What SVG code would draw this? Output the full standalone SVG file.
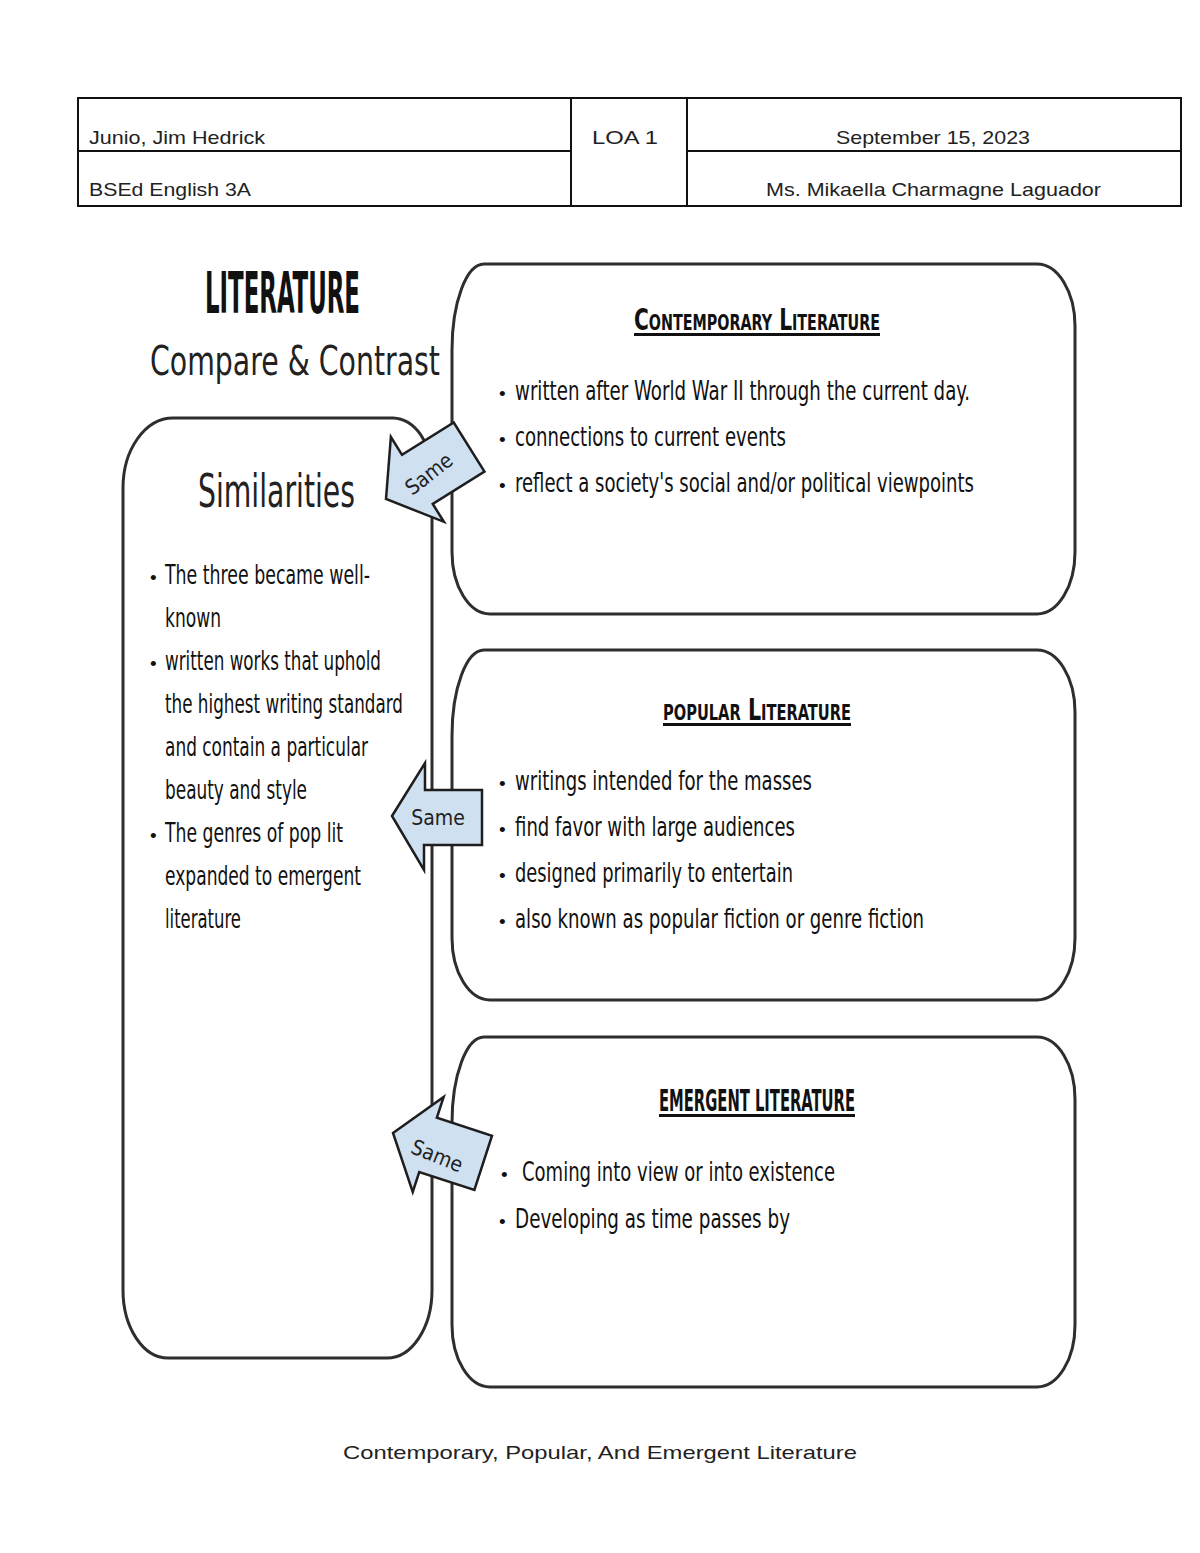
<svg xmlns="http://www.w3.org/2000/svg" width="1200" height="1553" viewBox="0 0 1200 1553">
<style>
.hdr{font-family:"Liberation Sans",Arial,sans-serif;font-size:19px;fill:#222}
.box{fill:#fff;stroke:#2e2e2e;stroke-width:3}
.tbl{fill:none;stroke:#111;stroke-width:2}
.body{font-family:"Liberation Sans Narrow","DejaVu Sans Condensed","Liberation Sans",sans-serif;font-size:27px;fill:#111}
.bul{font-family:"Liberation Sans",sans-serif;font-size:19px;fill:#111}
.head{font-family:"DejaVu Sans Condensed","DejaVu Sans",sans-serif;font-weight:bold;font-size:31px;fill:#111;font-variant:small-caps}
.title{font-family:"DejaVu Sans Condensed","DejaVu Sans",sans-serif;font-weight:bold;fill:#111}
.hand{font-family:"DejaVu Sans Condensed","DejaVu Sans",sans-serif;fill:#222}
.arrow{fill:#cfe0f1;stroke:#1e1e1e;stroke-width:2.5;stroke-linejoin:miter}
.same{font-family:"DejaVu Sans Condensed","DejaVu Sans",sans-serif;font-size:21px;fill:#222;text-anchor:middle}
</style>
<rect width="1200" height="1553" fill="#fff"/>

<g id="header">
<rect class="tbl" x="78" y="98" width="1103" height="108"/>
<line class="tbl" x1="571" y1="98" x2="571" y2="206"/>
<line class="tbl" x1="687" y1="98" x2="687" y2="206"/>
<line class="tbl" x1="78" y1="151" x2="571" y2="151"/>
<line class="tbl" x1="687" y1="151" x2="1181" y2="151"/>
<text class="hdr" x="89" y="144" textLength="176" lengthAdjust="spacingAndGlyphs">Junio, Jim Hedrick</text>
<text class="hdr" x="89" y="196" textLength="162" lengthAdjust="spacingAndGlyphs">BSEd English 3A</text>
<text class="hdr" x="592" y="144" textLength="66" lengthAdjust="spacingAndGlyphs">LOA  1</text>
<text class="hdr" x="836" y="144" textLength="194" lengthAdjust="spacingAndGlyphs">September 15, 2023</text>
<text class="hdr" x="766" y="196" textLength="335" lengthAdjust="spacingAndGlyphs">Ms. Mikaella Charmagne Laguador</text>
</g>

<g id="title">
<text class="title" x="205" y="313" font-size="57" textLength="155" lengthAdjust="spacingAndGlyphs">LITERATURE</text>
<text class="hand" x="150" y="375" font-size="40" textLength="290" lengthAdjust="spacingAndGlyphs">Compare &amp; Contrast</text>
</g>

<g id="similarities">
<path class="box" d="M173,418 L393,418 A40,55 0 0 1 432,473 L432,1290 A45,68 0 0 1 387,1358 L168,1358 A45,68 0 0 1 123,1290 L123,488 A50,70 0 0 1 173,418 Z"/>
<text class="hand" x="198" y="507" font-size="46" textLength="157" lengthAdjust="spacingAndGlyphs">Similarities</text>
<text class="bul" x="150" y="584">•</text>
<text class="body" x="165" y="584" textLength="205" lengthAdjust="spacingAndGlyphs">The three became well-</text>
<text class="body" x="165" y="627" textLength="56" lengthAdjust="spacingAndGlyphs">known</text>
<text class="bul" x="150" y="670">•</text>
<text class="body" x="165" y="670" textLength="216" lengthAdjust="spacingAndGlyphs">written works that uphold</text>
<text class="body" x="165" y="713" textLength="238" lengthAdjust="spacingAndGlyphs">the highest writing standard</text>
<text class="body" x="165" y="756" textLength="203" lengthAdjust="spacingAndGlyphs">and contain a particular</text>
<text class="body" x="165" y="799" textLength="142" lengthAdjust="spacingAndGlyphs">beauty and style</text>
<text class="bul" x="150" y="842">•</text>
<text class="body" x="165" y="842" textLength="178" lengthAdjust="spacingAndGlyphs">The genres of pop lit</text>
<text class="body" x="165" y="885" textLength="196" lengthAdjust="spacingAndGlyphs">expanded to emergent</text>
<text class="body" x="165" y="928" textLength="76" lengthAdjust="spacingAndGlyphs">literature</text>
</g>

<g id="contemporary">
<path class="box" d="M484,264 L1037,264 A38,62 0 0 1 1075,326 L1075,552 A38,62 0 0 1 1037,614 L490,614 A38,62 0 0 1 452,552 L452,350 A32,86 0 0 1 484,264 Z"/>
<text class="head" x="634" y="330" textLength="246" lengthAdjust="spacingAndGlyphs">Contemporary Literature</text>
<rect x="634" y="333" width="246" height="3" fill="#111"/>
<text class="bul" x="499" y="400">•</text>
<text class="body" x="515" y="400" textLength="455" lengthAdjust="spacingAndGlyphs">written after World War II through the current day.</text>
<text class="bul" x="499" y="446">•</text>
<text class="body" x="515" y="446" textLength="271" lengthAdjust="spacingAndGlyphs">connections to current events</text>
<text class="bul" x="499" y="492">•</text>
<text class="body" x="515" y="492" textLength="459" lengthAdjust="spacingAndGlyphs">reflect a society's social and/or political viewpoints</text>
</g>

<g id="popular">
<path class="box" d="M484,650 L1037,650 A38,62 0 0 1 1075,712 L1075,938 A38,62 0 0 1 1037,1000 L490,1000 A38,62 0 0 1 452,938 L452,736 A32,86 0 0 1 484,650 Z"/>
<text class="head" x="663" y="720" textLength="188" lengthAdjust="spacingAndGlyphs">popular Literature</text>
<rect x="663" y="723" width="188" height="3" fill="#111"/>
<text class="bul" x="499" y="790">•</text>
<text class="body" x="515" y="790" textLength="297" lengthAdjust="spacingAndGlyphs">writings intended for the masses</text>
<text class="bul" x="499" y="836">•</text>
<text class="body" x="515" y="836" textLength="280" lengthAdjust="spacingAndGlyphs">find favor with large audiences</text>
<text class="bul" x="499" y="882">•</text>
<text class="body" x="515" y="882" textLength="278" lengthAdjust="spacingAndGlyphs">designed primarily to entertain</text>
<text class="bul" x="499" y="928">•</text>
<text class="body" x="515" y="928" textLength="409" lengthAdjust="spacingAndGlyphs">also known as popular fiction or genre fiction</text>
</g>

<g id="emergent">
<path class="box" d="M484,1037 L1037,1037 A38,62 0 0 1 1075,1099 L1075,1325 A38,62 0 0 1 1037,1387 L490,1387 A38,62 0 0 1 452,1325 L452,1123 A32,86 0 0 1 484,1037 Z"/>
<text class="head" x="659" y="1111" textLength="196" lengthAdjust="spacingAndGlyphs">EMERGENT LITERATURE</text>
<rect x="659" y="1114" width="196" height="3" fill="#111"/>
<text class="bul" x="501" y="1181">•</text>
<text class="body" x="522" y="1181" textLength="313" lengthAdjust="spacingAndGlyphs">Coming into view or into existence</text>
<text class="bul" x="499" y="1228">•</text>
<text class="body" x="515" y="1228" textLength="275" lengthAdjust="spacingAndGlyphs">Developing as time passes by</text>
</g>

<g id="connectors">
<g id="arrow-contemporary">
<path class="arrow" transform="translate(386,499) rotate(-32)" d="M0,0 L37,-50 L37,-29 L98,-29 L98,29 L37,29 L37,50 Z"/>
<text class="same" transform="translate(429,474) rotate(-38)" y="7">Same</text>
</g>
<g id="arrow-popular">
<path class="arrow" d="M392,816 L425,763 L425,790 L482,790 L482,845 L424,845 L424,870 Z"/>
<text class="same" x="438" y="825">Same</text>
</g>
<g id="arrow-emergent">
<path class="arrow" transform="translate(393,1133) rotate(18)" d="M0,0 L37,-50 L37,-28 L95,-28 L95,29 L37,29 L37,50 Z"/>
<text class="same" transform="translate(437,1156) rotate(22)" y="7">Same</text>
</g>
</g>

<text class="hdr" x="600" y="1459" font-size="21" text-anchor="middle" textLength="514" lengthAdjust="spacingAndGlyphs">Contemporary, Popular, And  Emergent Literature</text>
</svg>
